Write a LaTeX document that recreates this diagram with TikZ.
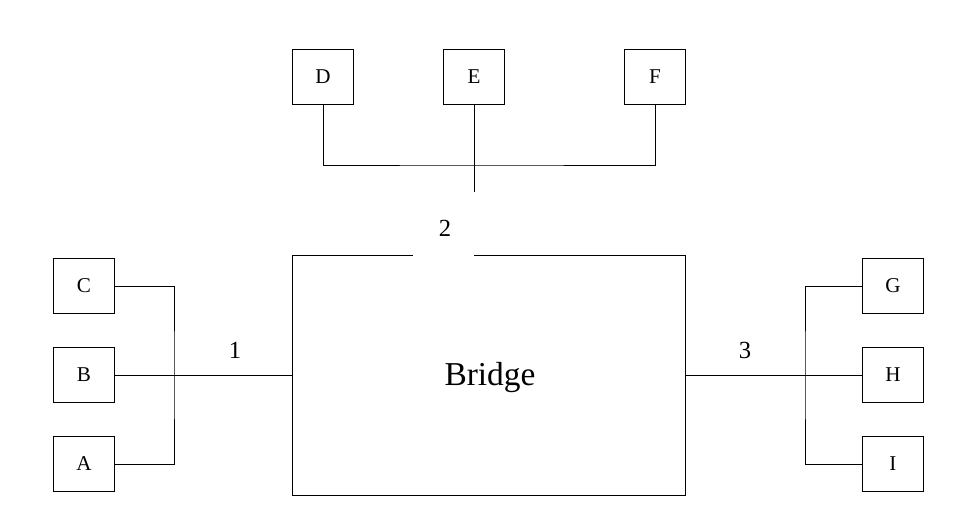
\documentclass[tikz,border=0pt]{standalone}
\usepackage{fontspec}
\setmainfont{Liberation Serif}
\begin{document}
\begin{tikzpicture}[x=0.02cm,y=-0.02cm,
    station/.style={draw,minimum width=1.22cm,minimum height=1.1cm,inner sep=0pt,font=\fontsize{12}{14}\selectfont},
    port/.style={font=\fontsize{14}{16}\selectfont}]
 					\useasboundingbox (0,0) rectangle (975,531);
 					
 					% bridge box with gap for port 2
 					\draw (413,255) -- (292,255) -- (292,495) -- (685,495) -- (685,255) -- (474,255);
 					\node [font=\fontsize{19}{22}\selectfont] (bridge) at (490,378) {Bridge};
 					\coordinate (p1) at (292,375);
 					\coordinate (p2) at (474,192);
 					\coordinate (p3) at (685,375);
 					
 					\node [station] (D) at (323,77) {D};
 					\node [station] (E) at (474,77) {E};
 					\node [station] (F) at (655,77) {F};
 					\node [station] (C) at (84,286) {C};
 					\node [station] (B) at (84,375) {B};
 					\node [station] (A) at (84,464) {A};
 					\node [station] (G) at (893,286) {G};
 					\node [station] (H) at (893,375) {H};
 					\node [station] (I) at (893,464) {I};
 					
 					\node [port] (n1) at (235,350) {1};
 					\node [port] (n2) at (445,228) {2};
 					\node [port] (n3) at (745,350) {3};
 					
 					% top segment
 					\draw (D) |- (474,165) -| (F);
 					\draw (E) -- (p2);
 					% left segment
 					\draw (C) -| (174,375) |- (A);
 					\draw (B) -- (p1);
 					% right segment
 					\draw (G) -| (805,375) |- (I);
 					\draw (p3) -- (H);
 				\end{tikzpicture}
\end{document}
